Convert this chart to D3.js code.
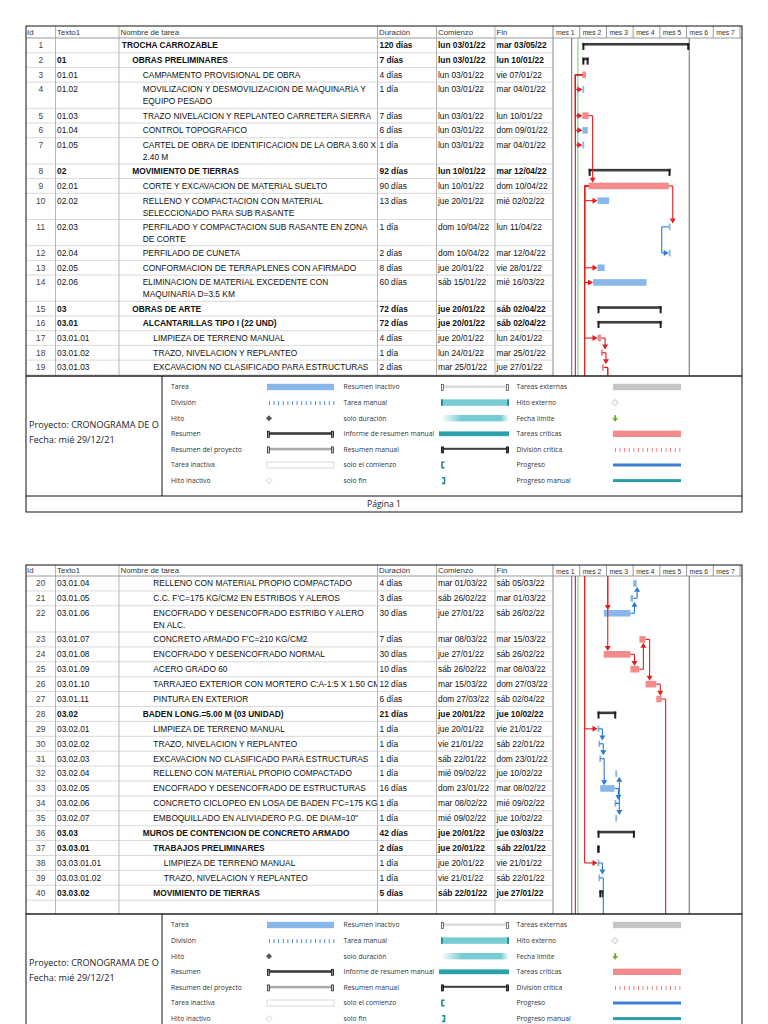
<!DOCTYPE html>
<html><head><meta charset="utf-8">
<script src="https://cdn.jsdelivr.net/npm/d3@7"></script>
<style>body{margin:0;background:#fff} svg{display:block}</style>
</head><body><svg id="c" width="768" height="1024"></svg>
<script>
// ---------------- DATA ----------------
const ids = d3.range(1, 41);
const texto1 = ["", "01", "01.01", "01.02", "01.03", "01.04", "01.05", "02", "02.01", "02.02",
  "02.03", "02.04", "02.05", "02.06", "03", "03.01", "03.01.01", "03.01.02", "03.01.03", "03.01.04",
  "03.01.05", "03.01.06", "03.01.07", "03.01.08", "03.01.09", "03.01.10", "03.01.11", "03.02", "03.02.01", "03.02.02",
  "03.02.03", "03.02.04", "03.02.05", "03.02.06", "03.02.07", "03.03", "03.03.01", "03.03.01.01", "03.03.01.02", "03.03.02"];
const nombres = ["TROCHA CARROZABLE", "OBRAS PRELIMINARES", "CAMPAMENTO PROVISIONAL DE OBRA",
  "MOVILIZACION Y DESMOVILIZACION DE MAQUINARIA Y\nEQUIPO PESADO",
  "TRAZO NIVELACION Y REPLANTEO CARRETERA SIERRA", "CONTROL TOPOGRAFICO",
  "CARTEL DE OBRA DE IDENTIFICACION DE LA OBRA 3.60 X\n2.40 M",
  "MOVIMIENTO DE TIERRAS", "CORTE Y EXCAVACION DE MATERIAL SUELTO",
  "RELLENO Y COMPACTACION CON MATERIAL\nSELECCIONADO PARA SUB RASANTE",
  "PERFILADO Y COMPACTACION SUB RASANTE EN ZONA\nDE CORTE", "PERFILADO DE CUNETA",
  "CONFORMACION DE TERRAPLENES CON AFIRMADO",
  "ELIMINACION DE MATERIAL EXCEDENTE CON\nMAQUINARIA D=3.5 KM",
  "OBRAS DE ARTE", "ALCANTARILLAS TIPO I (22 UND)", "LIMPIEZA DE TERRENO MANUAL",
  "TRAZO, NIVELACION Y REPLANTEO", "EXCAVACION NO CLASIFICADO PARA ESTRUCTURAS",
  "RELLENO CON MATERIAL PROPIO COMPACTADO", "C.C. F'C=175 KG/CM2 EN ESTRIBOS Y ALEROS",
  "ENCOFRADO Y DESENCOFRADO ESTRIBO Y ALERO\nEN ALC.", "CONCRETO ARMADO F'C=210 KG/CM2",
  "ENCOFRADO Y DESENCOFRADO NORMAL", "ACERO GRADO 60",
  "TARRAJEO EXTERIOR CON MORTERO C:A-1:5 X 1.50 CM", "PINTURA EN EXTERIOR",
  "BADEN LONG.=5.00 M (03 UNIDAD)", "LIMPIEZA DE TERRENO MANUAL", "TRAZO, NIVELACION Y REPLANTEO",
  "EXCAVACION NO CLASIFICADO PARA ESTRUCTURAS", "RELLENO CON MATERIAL PROPIO COMPACTADO",
  "ENCOFRADO Y DESENCOFRADO DE ESTRUCTURAS", "CONCRETO CICLOPEO EN LOSA DE BADEN F'C=175 KG",
  "EMBOQUILLADO EN ALIVIADERO P.G. DE DIAM=10\"", "MUROS DE CONTENCION DE CONCRETO ARMADO",
  "TRABAJOS PRELIMINARES", "LIMPIEZA DE TERRENO MANUAL", "TRAZO, NIVELACION Y REPLANTEO",
  "MOVIMIENTO DE TIERRAS"];
const niveles = [0,1,2,2,2,2,2,1,2,2, 2,2,2,2,1,2,3,3,3,3, 3,3,3,3,3,3,3,2,3,3, 3,3,3,3,3,2,3,4,4,3];
const duraciones = ["120 días","7 días","4 días","1 día","7 días","6 días","1 día","92 días","90 días","13 días",
  "1 día","2 días","8 días","60 días","72 días","72 días","4 días","1 día","2 días","4 días",
  "3 días","30 días","7 días","30 días","10 días","12 días","6 días","21 días","1 día","1 día",
  "1 día","1 día","16 días","1 día","1 día","42 días","2 días","1 día","1 día","5 días"];
const comienzos = ["lun 03/01/22","lun 03/01/22","lun 03/01/22","lun 03/01/22","lun 03/01/22","lun 03/01/22","lun 03/01/22","lun 10/01/22","lun 10/01/22","jue 20/01/22",
  "dom 10/04/22","dom 10/04/22","jue 20/01/22","sáb 15/01/22","jue 20/01/22","jue 20/01/22","jue 20/01/22","lun 24/01/22","mar 25/01/22","mar 01/03/22",
  "sáb 26/02/22","jue 27/01/22","mar 08/03/22","jue 27/01/22","sáb 26/02/22","mar 15/03/22","dom 27/03/22","jue 20/01/22","jue 20/01/22","vie 21/01/22",
  "sáb 22/01/22","mié 09/02/22","dom 23/01/22","mar 08/02/22","mié 09/02/22","jue 20/01/22","jue 20/01/22","jue 20/01/22","vie 21/01/22","sáb 22/01/22"];
const fines = ["mar 03/05/22","lun 10/01/22","vie 07/01/22","mar 04/01/22","lun 10/01/22","dom 09/01/22","mar 04/01/22","mar 12/04/22","dom 10/04/22","mié 02/02/22",
  "lun 11/04/22","mar 12/04/22","vie 28/01/22","mié 16/03/22","sáb 02/04/22","sáb 02/04/22","lun 24/01/22","mar 25/01/22","jue 27/01/22","sáb 05/03/22",
  "mar 01/03/22","sáb 26/02/22","mar 15/03/22","sáb 26/02/22","mar 08/03/22","dom 27/03/22","sáb 02/04/22","jue 10/02/22","vie 21/01/22","sáb 22/01/22",
  "dom 23/01/22","jue 10/02/22","mar 08/02/22","mié 09/02/22","jue 10/02/22","jue 03/03/22","sáb 22/01/22","vie 21/01/22","sáb 22/01/22","jue 27/01/22"];
const resumenes = [1,2,8,15,16,28,36,37,40];
const criticas = [3,5,9,17,18,19,23,24,25,26,27];
// dependencies: [predecessor, successor, type] ; "FC" finish-start, "CC" start-start, 0 = continues on next page
const enlaces = [[3,4,"CC"],[3,5,"CC"],[3,6,"CC"],[3,7,"CC"],[3,0,"CC"],[5,9,"FC"],
  [9,10,"CC"],[9,13,"CC"],[9,14,"CC"],[9,17,"CC"],[9,29,"CC"],[9,38,"CC"],[9,11,"FC"],[11,12,"CC"],
  [17,18,"FC"],[18,19,"FC"],[19,22,"FC"],[19,24,"FC"],[22,21,"FC"],[21,20,"FC"],
  [24,25,"FC"],[25,23,"FC"],[23,26,"FC"],[26,27,"FC"],[27,0,"FC"],
  [29,30,"FC"],[30,31,"FC"],[31,33,"FC"],[33,34,"FC"],[34,32,"FC"],[34,35,"FC"],
  [38,39,"FC"],[39,0,"FC"]];
const meses = ["mes 1","mes 2","mes 3","mes 4","mes 5","mes 6","mes 7"];
const inicioEscala = "01/12/21", finEscala = "29/06/22";
const fechaEstado = "29/12/21";
const lineasGrises = ["22/12/21","03/05/22"];
const encabezados = ["Id","Texto1","Nombre de tarea","Duración","Comienzo","Fin"];
const leyenda = [["Tarea","tarea"],["División","division"],["Hito","hito"],["Resumen","resumen"],["Resumen del proyecto","resProy"],["Tarea inactiva","tareaIn"],["Hito inactivo","hitoIn"],
  ["Resumen inactivo","resIn"],["Tarea manual","manual"],["solo duración","soloDur"],["Informe de resumen manual","informe"],["Resumen manual","resManual"],["solo el comienzo","soloCom"],["solo fin","soloFin"],
  ["Tareas externas","externas"],["Hito externo","hitoExt"],["Fecha límite","limite"],["Tareas críticas","criticas"],["División crítica","divCrit"],["Progreso","progreso"],["Progreso manual","progManual"]];
const proyecto = ["Proyecto: CRONOGRAMA DE O", "Fecha: mié 29/12/21"];

// ---------------- LAYOUT ----------------
const svg = d3.select("#c");
const defs = svg.append("defs");
const parse = d3.timeParse("%d/%m/%y");
const fecha = s => parse(s.split(" ").pop());
const colX = [26, 55.5, 119, 377.5, 436.5, 495, 553, 742];
const D = 26.2;
const FT = "'Liberation Sans', Arial, sans-serif";
const FL = "'Open Sans', 'Noto Sans', sans-serif";
const FS = 8.35;
const RED = "#e21f1f", BLUE = "#2b7bd3";
const x = d3.scaleTime().domain([parse(inicioEscala), parse(finEscala)]).range([553, 740]);

const paginas = [
  {top: 26, hh: 12, s: 14.7, desde: 1, hasta: 19, finTabla: 376, finLey: 496, finPie: 512, pie: "Página 1"},
  {top: 565, hh: 11, s: 14.9, desde: 20, hasta: 40, finTabla: 914, finLey: 1070, finPie: null}
];
const filas = ids.map((id, i) => ({id, texto: texto1[i], lineas: nombres[i].split("\n"), nivel: niveles[i],
  dur: duraciones[i], com: comienzos[i], fin: fines[i], ini: fecha(comienzos[i]), ter: fecha(fines[i]),
  res: resumenes.includes(id), crit: criticas.includes(id)}));
const fila = id => filas[id - 1];
paginas.forEach((pg, pi) => {
  let y = pg.top + pg.hh;
  pg.chartTop = y; pg.chartBottom = pg.finTabla;
  filas.filter(f => f.id >= pg.desde && f.id <= pg.hasta).forEach(f => {
    f.p = pi; f.top = y; f.h = f.lineas.length > 1 ? D : pg.s; f.c = y + pg.s / 2; y += f.h;
  });
});

paginas.forEach((pg, pi) => {
  const g = svg.append("g");
  const HH = pg.hh;
  const bottom = pg.finPie || 1070;
  for (let k = 0; k < 6; k++) {
    defs.append("clipPath").attr("id", `cl${pi}_${k}`).append("rect")
      .attr("x", colX[k] + 0.5).attr("y", pg.top).attr("width", colX[k + 1] - colX[k] - 1).attr("height", pg.finTabla - pg.top);
  }
  defs.append("clipPath").attr("id", `ch${pi}`).append("rect")
    .attr("x", colX[6]).attr("y", pg.chartTop).attr("width", colX[7] - colX[6]).attr("height", pg.chartBottom - pg.chartTop);
  defs.append("clipPath").attr("id", `lp${pi}`).append("rect")
    .attr("x", 26).attr("y", pg.finTabla).attr("width", 135.5).attr("height", pg.finLey - pg.finTabla);

  const rows = filas.filter(f => f.p === pi);
  g.selectAll(".rl").data(rows).enter().append("line")
    .attr("x1", 26).attr("x2", colX[6]).attr("y1", f => f.top + f.h).attr("y2", f => f.top + f.h)
    .attr("stroke", "#d9d9d9").attr("stroke-width", 1);
  g.selectAll(".cl").data(colX.slice(1, 7)).enter().append("line")
    .attr("x1", d => d).attr("x2", d => d).attr("y1", pg.top).attr("y2", pg.finTabla)
    .attr("stroke", (d, i) => i === 5 ? "#8a8a8a" : "#b5b5b5").attr("stroke-width", 1);
  g.append("line").attr("x1", 26).attr("x2", 742).attr("y1", pg.top + HH).attr("y2", pg.top + HH).attr("stroke", "#9a9a9a");
  const hx = [27, 57, 120.5, 379, 438, 496.5];
  encabezados.forEach((t, k) => g.append("text").attr("x", hx[k]).attr("y", pg.top + HH / 2).attr("dy", "0.35em")
    .attr("font-family", FT).attr("font-size", 7.8).attr("fill", "#333").text(t));
  const m0 = parse(inicioEscala);
  meses.forEach((m, k) => {
    const xa = x(d3.timeDay.offset(m0, 30 * k)), xb = x(d3.timeDay.offset(m0, 30 * (k + 1)));
    g.append("line").attr("x1", xb).attr("x2", xb).attr("y1", pg.top).attr("y2", pg.top + HH).attr("stroke", "#9a9a9a");
    g.append("text").attr("x", xa + 3).attr("y", pg.top + HH / 2 + 1).attr("dy", "0.35em")
      .attr("font-family", FT).attr("font-size", 6.8).attr("fill", "#333").text(m);
  });

  rows.forEach(f => {
    const wt = f.res ? "bold" : "normal";
    const txt = (k, xx, s, anchor) => g.append("text").attr("clip-path", `url(#cl${pi}_${k})`)
      .attr("x", xx).attr("y", f.c).attr("dy", "0.35em").attr("text-anchor", anchor || "start")
      .attr("font-family", FT).attr("font-size", FS).attr("font-weight", k === 0 ? "normal" : wt).attr("fill", k === 0 ? "#444" : "#111").text(s);
    txt(0, 40.7, f.id, "middle");
    txt(1, 57, f.texto);
    f.lineas.forEach((l, j) => g.append("text").attr("clip-path", `url(#cl${pi}_2)`)
      .attr("x", 121.8 + f.nivel * 10.5).attr("y", f.c + j * 12).attr("dy", "0.35em")
      .attr("font-family", FT).attr("font-size", FS).attr("font-weight", wt).attr("fill", "#111").text(l));
    txt(3, 379.5, f.dur);
    txt(4, 438, f.com);
    txt(5, 496.5, f.fin);
  });

  const ch = g.append("g").attr("clip-path", `url(#ch${pi})`);
  lineasGrises.forEach(d => ch.append("line").attr("x1", x(parse(d))).attr("x2", x(parse(d)))
    .attr("y1", pg.chartTop).attr("y2", pg.chartBottom).attr("stroke", "#6a6a6a").attr("stroke-width", 1));
  ch.append("line").attr("x1", x(parse(fechaEstado))).attr("x2", x(parse(fechaEstado)))
    .attr("y1", pg.chartTop).attr("y2", pg.chartBottom).attr("stroke", "#7cc47c").attr("stroke-width", 1);
  pg.ch = ch;

  rows.forEach(f => {
    const xa = x(f.ini), xb = x(f.ter);
    if (f.res) {
      ch.append("rect").attr("x", xa).attr("y", f.c - 2.4).attr("width", Math.max(xb - xa, 2)).attr("height", 2.6).attr("fill", "#3c3c3c");
      ch.append("rect").attr("x", xa).attr("y", f.c - 2.4).attr("width", 2).attr("height", 7).attr("fill", "#1e1e1e");
      ch.append("rect").attr("x", xb - 2).attr("y", f.c - 2.4).attr("width", 2).attr("height", 7).attr("fill", "#1e1e1e");
    } else {
      ch.append("rect").attr("x", xa).attr("y", f.c - 3.3).attr("width", Math.max(xb - xa, 1.8)).attr("height", 6.6)
        .attr("fill", f.crit ? "#f38a8b" : "#8ab7e9");
    }
  });

  g.append("rect").attr("x", 26).attr("y", pg.top).attr("width", 716).attr("height", bottom - pg.top)
    .attr("fill", "none").attr("stroke", "#111").attr("stroke-width", 1);
  g.append("line").attr("x1", 26).attr("x2", 742).attr("y1", pg.finTabla).attr("y2", pg.finTabla).attr("stroke", "#222").attr("stroke-width", 1.6);
  g.append("line").attr("x1", 162).attr("x2", 162).attr("y1", pg.finTabla).attr("y2", pg.finLey).attr("stroke", "#111");
  if (pg.finPie) {
    g.append("line").attr("x1", 26).attr("x2", 742).attr("y1", pg.finLey).attr("y2", pg.finLey).attr("stroke", "#111");
    g.append("text").attr("x", 384).attr("y", (pg.finLey + pg.finPie) / 2).attr("dy", "0.35em").attr("text-anchor", "middle")
      .attr("font-family", FL).attr("font-size", 8.6).attr("fill", "#222").text(pg.pie);
  }
  proyecto.forEach((t, j) => g.append("text").attr("clip-path", `url(#lp${pi})`).attr("x", 29).attr("y", pg.finTabla + 49 + j * 14.5)
    .attr("dy", "0.35em").attr("font-family", FL).attr("font-size", 9.1).attr("fill", "#222").text(t));

  const labX = [171, 343.5, 516.5], swX = [[267, 334], [441, 509], [613, 681]];
  leyenda.forEach(([lab, tipo], i) => {
    const col = Math.floor(i / 7), r = i % 7, y = pg.finTabla + 11 + r * 15.6;
    g.append("text").attr("x", labX[col]).attr("y", y).attr("dy", "0.35em").attr("font-family", FL)
      .attr("font-size", 6.8).attr("fill", "#333").text(lab);
    swatch(g, tipo, swX[col][0], swX[col][1], y);
  });
});

function swatch(g, t, a, b, y) {
  const rect = (xx, yy, w, h, fill, stroke) => g.append("rect").attr("x", xx).attr("y", yy).attr("width", w).attr("height", h)
    .attr("fill", fill).attr("stroke", stroke || "none").attr("stroke-width", 0.8);
  const diamond = (cx, fill, stroke) => g.append("path").attr("d", `M${cx},${y - 3}L${cx + 3},${y}L${cx},${y + 3}L${cx - 3},${y}Z`)
    .attr("fill", fill).attr("stroke", stroke || "none").attr("stroke-width", 0.8);
  const ticks = (col) => { for (let xx = a + 2; xx < b; xx += 4.6) rect(xx, y - 1.5, 0.9, 4, col); };
  const bracket = (bar, cap, capFill, h) => {
    rect(a, y - 1.6, b - a, h || 2.6, bar);
    rect(a + 0.5, y - 2.5, 2, 6, capFill, cap); rect(b - 2.5, y - 2.5, 2, 6, capFill, cap);
  };
  switch (t) {
    case "tarea": rect(a, y - 3.2, b - a, 6.4, "#8ab7e9"); break;
    case "division": ticks("#3b7fd6"); break;
    case "hito": diamond(a + 2, "#555"); break;
    case "resumen": bracket("#3c3c3c", "#111", "#999"); break;
    case "resProy": bracket("#a9a9a9", "#333", "#ccc"); break;
    case "tareaIn": rect(a, y - 3, b - a, 6, "#fff", "#cfcfcf"); break;
    case "hitoIn": diamond(a + 2, "#fff", "#c8c8c8"); break;
    case "resIn": bracket("#dcdcdc", "#555", "#fff"); break;
    case "manual": rect(a, y - 3.2, b - a, 6.4, "#77ccd4"); rect(a, y - 3.2, 1.8, 6.4, "#1f8a92"); rect(b - 1.8, y - 3.2, 1.8, 6.4, "#1f8a92"); break;
    case "soloDur": {
      const gid = "gradDur" + Math.round(y);
      const gr = defs.append("linearGradient").attr("id", gid);
      gr.append("stop").attr("offset", "0").attr("stop-color", "#ffffff");
      gr.append("stop").attr("offset", "0.3").attr("stop-color", "#77ccd4");
      gr.append("stop").attr("offset", "0.88").attr("stop-color", "#77ccd4");
      gr.append("stop").attr("offset", "1").attr("stop-color", "#ffffff");
      rect(a, y - 3.2, b - a, 6.4, `url(#${gid})`); break;
    }
    case "informe": rect(a - 2, y - 2.4, b - a + 2, 4.8, "#2aa3a9"); break;
    case "resManual": bracket("#3c3c3c", "#111", "#444", 2); break;
    case "soloCom": g.append("path").attr("d", `M${a + 3.5},${y - 2.8}H${a + 1}V${y + 2.8}H${a + 3.5}`).attr("fill", "none").attr("stroke", "#1f8a92").attr("stroke-width", 1.6); break;
    case "soloFin": g.append("path").attr("d", `M${a + 1},${y - 2.8}H${a + 3.5}V${y + 2.8}H${a + 1}`).attr("fill", "none").attr("stroke", "#1f8a92").attr("stroke-width", 1.6); break;
    case "externas": rect(a, y - 3.2, b - a, 6.4, "#c4c4c4"); break;
    case "hitoExt": diamond(a + 2, "#fff", "#a8a8a8"); break;
    case "limite": g.append("path").attr("d", `M${a + 1.2},${y - 3}h2v3h2l-3,3.5l-3,-3.5h2z`).attr("fill", "#6aad2e"); break;
    case "criticas": rect(a, y - 3.2, b - a, 6.4, "#f38a8b"); break;
    case "divCrit": ticks("#ef6e6e"); break;
    case "progreso": rect(a, y - 1.5, b - a, 3, "#3b7fd6"); break;
    case "progManual": rect(a, y - 1.5, b - a, 3, "#2aa0a6"); break;
  }
}

// ---------------- LINKS ----------------
function vseg(xx, p1, y1, p2, y2, color) {
  const ln = (p, ya, yb) => paginas[p].ch.append("line").attr("x1", xx).attr("x2", xx).attr("y1", ya).attr("y2", yb).attr("stroke", color).attr("stroke-width", 1.1);
  if (p1 === p2) { ln(p1, y1, y2); return; }
  const a = p1 < p2 ? [p1, y1, p2, y2] : [p2, y2, p1, y1];
  ln(a[0], a[1], paginas[a[0]].chartBottom);
  for (let q = a[0] + 1; q < a[2]; q++) ln(q, paginas[q].chartTop, paginas[q].chartBottom);
  ln(a[2], paginas[a[2]].chartTop, a[3]);
}
function hseg(p, x1, x2, y, color) { paginas[p].ch.append("line").attr("x1", x1).attr("x2", x2).attr("y1", y).attr("y2", y).attr("stroke", color).attr("stroke-width", 1.1); }
function arrow(p, xx, y, dir, color) {
  const L = 5, H = 3;
  let d;
  if (dir === "down") d = `M${xx - H},${y - L}L${xx + H},${y - L}L${xx},${y}Z`;
  else if (dir === "up") d = `M${xx - H},${y + L}L${xx + H},${y + L}L${xx},${y}Z`;
  else d = `M${xx - L},${y - H}L${xx - L},${y + H}L${xx},${y}Z`;
  paginas[p].ch.append("path").attr("d", d).attr("fill", color);
}
const ultima = paginas.length - 1;
enlaces.forEach(([a, b, tipo]) => {
  const P = fila(a), color = P.crit ? RED : BLUE;
  if (tipo === "CC") {
    const xs = x(P.ini);
    const Sx = b ? x(fila(b).ini) : xs;
    const xv = xs - (Math.abs(Sx - xs) < 1 ? 7 : 4);
    hseg(P.p, xv, xs, P.c, color);
    if (!b) { vseg(xv, P.p, P.c, ultima, paginas[ultima].chartBottom, color); return; }
    const Q = fila(b);
    vseg(xv, P.p, P.c, Q.p, Q.c, color);
    hseg(Q.p, xv, Sx - 4, Q.c, color);
    arrow(Q.p, Sx, Q.c, "right", color);
  } else {
    const xe = x(P.ter), xv = xe + 4;
    hseg(P.p, xe, xv, P.c, color);
    if (!b) { vseg(xv, P.p, P.c, ultima, paginas[ultima].chartBottom, color); return; }
    const Q = fila(b);
    const below = Q.id > P.id;
    const yt = below ? Q.c - 3.3 : Q.c + 3.3;
    vseg(xv, P.p, P.c, Q.p, below ? yt - 4 : yt + 4, color);
    arrow(Q.p, xv, yt, below ? "down" : "up", color);
  }
});
</script></body></html>
